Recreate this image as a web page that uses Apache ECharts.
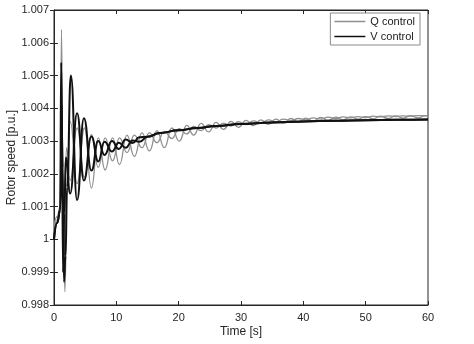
<!DOCTYPE html>
<html>
<head>
<meta charset="utf-8">
<script src="https://cdn.jsdelivr.net/npm/echarts@6/dist/echarts.min.js"></script>
<style>
html,body{margin:0;padding:0;background:#fff;}
#chart{width:474px;height:344px;}
</style>
</head>
<body>
<div id="chart"></div>
<script>
// ---- data (time [s], rotor speed [p.u.]) ----
var seriesNames = ['Q control', 'V control'];
var xTicks = [0, 10, 20, 30, 40, 50, 60];
var yTicks = [0.998, 0.999, 1, 1.001, 1.002, 1.003, 1.004, 1.005, 1.006, 1.007];

var qCtrl1 = [
  [0, 1.0003], [0.5, 1.0006], [1.0, 1.0009], [1.2, 1.0064], [1.45, 1.0012], [1.75, 0.9984],
  [2.1, 1.0016], [2.6, 1.0036], [3.7, 1.0017], [4.9, 1.0034], [6.0, 1.00157], [7.1, 1.0031],
  [8.2, 1.00212], [9.4, 1.0031], [10.5, 1.00228], [11.7, 1.00318], [12.9, 1.00253], [14.1, 1.00325],
  [15.3, 1.0027], [16.5, 1.00332], [17.7, 1.0028], [18.9, 1.0034], [20.1, 1.00300], [21.3, 1.00348],
  [22.4, 1.00318], [23.6, 1.00354], [24.8, 1.00328], [26.0, 1.00357], [27.2, 1.00336], [28.4, 1.0036],
  [29.6, 1.00342], [30.8, 1.00363], [32.0, 1.00347], [33.2, 1.00365], [34.4, 1.00351], [35.6, 1.00367],
  [36.8, 1.00355], [38.0, 1.00369], [39.2, 1.00358], [40.4, 1.0037], [41.6, 1.00361], [42.8, 1.00372],
  [44.0, 1.00363], [45.2, 1.00373], [46.4, 1.00365], [47.6, 1.00374], [48.8, 1.00367], [50.0, 1.00375],
  [51.2, 1.00368], [52.4, 1.00376], [53.6, 1.00369], [54.8, 1.00377], [56.0, 1.0037], [57.2, 1.00378],
  [58.4, 1.00371], [59.6, 1.00378], [60, 1.00376]
];
var qCtrl2 = [
  [0, 1.0004], [0.5, 1.0007], [1.0, 1.001], [1.3, 1.0036], [1.6, 0.9994], [2.0, 1.0028],
  [2.6, 1.0018], [3.7, 1.0034], [4.9, 1.0019], [6.0, 1.0032], [7.1, 1.0022], [8.2, 1.0031],
  [9.4, 1.0024], [10.5, 1.0031], [11.7, 1.00265], [12.9, 1.00318], [14.1, 1.0028], [15.3, 1.00325],
  [16.5, 1.00295], [17.7, 1.0033], [18.9, 1.00308], [20.1, 1.00338], [21.3, 1.00322], [22.4, 1.00345],
  [23.6, 1.00332], [24.8, 1.0035], [26.0, 1.0034], [27.2, 1.00355], [28.4, 1.00346], [29.6, 1.00359],
  [30.8, 1.0035], [32.0, 1.00362], [33.2, 1.00355], [34.4, 1.00365], [35.6, 1.00359], [36.8, 1.00367],
  [38.0, 1.00362], [39.2, 1.00369], [40.4, 1.00365], [41.6, 1.00371], [42.8, 1.00367], [44.0, 1.00373],
  [45.2, 1.00369], [46.4, 1.00374], [47.6, 1.00371], [48.8, 1.00375], [50.0, 1.00372], [51.2, 1.00376],
  [52.4, 1.00374], [53.6, 1.00377], [54.8, 1.00375], [56.0, 1.00377], [57.2, 1.00376], [58.4, 1.00378],
  [60, 1.00377]
];
var vCtrl1 = [
  [0, 1.0], [0.5, 1.0005], [1.0, 1.0009], [1.15, 1.0054], [1.35, 1.0022], [1.6, 0.9987],
  [1.85, 0.9995], [2.1, 1.0016], [2.7, 1.0050], [3.7, 1.0012], [4.8, 1.0037], [6.0, 1.0021],
  [7.1, 1.0030], [8.1, 1.00258], [9.3, 1.0030], [10.4, 1.00276], [11.5, 1.00305], [12.6, 1.00294],
  [13.7, 1.00312], [15, 1.00313], [17, 1.00325], [20, 1.00333], [23, 1.0034], [26, 1.00346],
  [30, 1.00352], [35, 1.00357], [40, 1.0036], [45, 1.00362], [50, 1.00364], [55, 1.00365], [60, 1.00366]
];
var vCtrl2 = [
  [0, 1.0], [0.5, 1.0005], [1.0, 1.0009], [1.25, 1.0041], [1.45, 0.9990], [1.65, 1.0008],
  [1.9, 1.0025], [2.6, 1.0014], [3.7, 1.00385], [4.8, 1.0018], [6.0, 1.00314], [7.1, 1.00238],
  [8.1, 1.00298], [9.3, 1.00268], [10.4, 1.00295], [11.5, 1.0028], [12.6, 1.00302], [13.7, 1.00298],
  [15, 1.00313], [17, 1.00325], [20, 1.00333], [23, 1.0034], [26, 1.00346], [30, 1.00352],
  [35, 1.00357], [40, 1.0036], [45, 1.00362], [50, 1.00364], [55, 1.00365], [60, 1.00366]
];

// ---- chart ----
var FONT = 'Liberation Sans, Arial, Helvetica, sans-serif';
var AX = '#262626';
var GRAY = '#8f8f8f';
var BLACK = '#111111';

function lineSeries(name, data, color, width) {
  return {
    name: name, type: 'line', data: data, xAxisIndex: 0, yAxisIndex: 0,
    showSymbol: false, smooth: 0.5, smoothMonotone: 'x',
    lineStyle: { color: color, width: width }, itemStyle: { color: color },
    emphasis: { disabled: true }
  };
}

var xMin = xTicks[0], xMax = xTicks[xTicks.length - 1];
var yMin = yTicks[0], yMax = yTicks[yTicks.length - 1];
var xInt = xTicks[1] - xTicks[0];
var yInt = 0.001;

var chart = echarts.init(document.getElementById('chart'), null, { renderer: 'canvas' });
chart.setOption({
  animation: false,
  backgroundColor: '#ffffff',
  grid: { left: 54, right: 46, top: 10, bottom: 39, show: true, borderColor: AX, borderWidth: 1,
    backgroundColor: '#fff', containLabel: false, outerBoundsMode: 'none' },
  legend: {
    data: [
      { name: seriesNames[0], icon: 'rect', itemStyle: { color: GRAY } },
      { name: seriesNames[1], icon: 'rect', itemStyle: { color: BLACK } }
    ],
    orient: 'vertical', right: 54, top: 13,
    itemWidth: 31, itemHeight: 1.5, itemGap: 4,
    padding: [3, 5, 3, 4],
    backgroundColor: '#fff', borderColor: '#8a8a8a', borderWidth: 1, borderRadius: 0,
    textStyle: { fontFamily: FONT, fontSize: 11, color: '#1a1a1a', padding: [0, 0, 0, 0] },
    selectedMode: false
  },
  xAxis: [{
    type: 'value', min: xMin, max: xMax, interval: xInt, position: 'bottom',
    name: 'Time [s]', nameLocation: 'middle', nameGap: 21, nameMoveOverlap: false,
    nameTextStyle: { fontFamily: FONT, fontSize: 12, color: AX },
    axisLine: { show: true, lineStyle: { color: AX } },
    axisTick: { show: true, inside: true, length: 4, lineStyle: { color: AX } },
    axisLabel: { fontFamily: FONT, fontSize: 11, color: AX, margin: 7 },
    splitLine: { show: false }
  }, {
    type: 'value', min: xMin, max: xMax, interval: xInt, position: 'top',
    axisLine: { show: true, lineStyle: { color: AX } },
    axisTick: { show: true, inside: true, length: 4, lineStyle: { color: AX } },
    axisLabel: { show: false }, splitLine: { show: false }
  }],
  yAxis: [{
    type: 'value', min: yMin, max: yMax, interval: yInt, position: 'left',
    name: 'Rotor speed [p.u.]', nameLocation: 'middle', nameGap: 36, nameRotate: 90, nameMoveOverlap: false,
    nameTextStyle: { fontFamily: FONT, fontSize: 12, color: AX },
    axisLine: { show: true, lineStyle: { color: AX } },
    axisTick: { show: true, inside: true, length: 4, lineStyle: { color: AX } },
    axisLabel: { fontFamily: FONT, fontSize: 11, color: AX, margin: 5,
      formatter: function (v) { return String(+v.toFixed(3)); } },
    splitLine: { show: false }
  }, {
    type: 'value', min: yMin, max: yMax, interval: yInt, position: 'right',
    axisLine: { show: true, lineStyle: { color: AX } },
    axisTick: { show: true, inside: true, length: 4, lineStyle: { color: AX } },
    axisLabel: { show: false }, splitLine: { show: false }
  }],
  series: [
    lineSeries(seriesNames[0], qCtrl1, GRAY, 1.3),
    lineSeries(seriesNames[0], qCtrl2, GRAY, 1.3),
    lineSeries(seriesNames[1], vCtrl1, BLACK, 2),
    lineSeries(seriesNames[1], vCtrl2, BLACK, 2)
  ]
});
</script>
</body>
</html>
